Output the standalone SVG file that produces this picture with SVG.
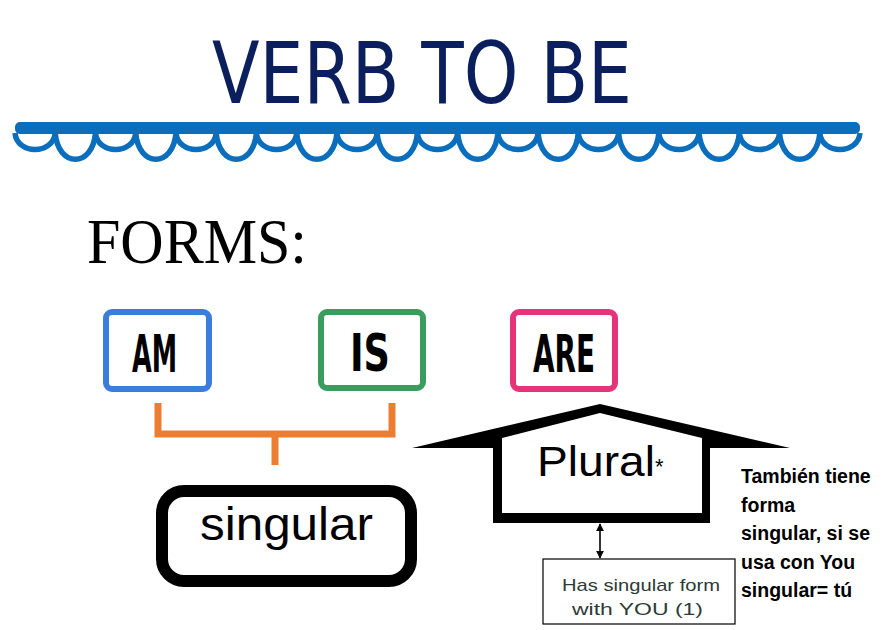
<svg xmlns="http://www.w3.org/2000/svg" width="889" height="630" viewBox="0 0 889 630">
<style>
.hand{font-family:"Liberation Sans","DejaVu Sans",sans-serif;fill:#000}
.marker{font-family:"DejaVu Sans Condensed","DejaVu Sans",sans-serif;font-weight:bold;fill:#000}
.form{fill:#fff;stroke-width:6}
.scal{fill:none;stroke:#0a6ebd;stroke-width:5.5}
.note{font-family:"Liberation Sans","DejaVu Sans",sans-serif;font-weight:bold;font-size:19.5px;fill:#000}
.small{font-family:"Liberation Sans","DejaVu Sans",sans-serif;font-size:17px;fill:#2e3a36}
</style>
<defs>
<marker id="ah" viewBox="0 0 10 10" refX="9" refY="5" markerWidth="8" markerHeight="8" markerUnits="userSpaceOnUse" orient="auto-start-reverse">
<path d="M0,0 L10,5 L0,10 Z" fill="#000"/>
</marker>
</defs>
<rect width="889" height="630" fill="#fff"/>

<g id="title">
<text x="212" y="103" font-family="'DejaVu Sans Condensed','DejaVu Sans',sans-serif" font-size="86" fill="#0b1f5c" textLength="420" lengthAdjust="spacingAndGlyphs">VERB TO BE</text>
</g>

<g id="border">
<rect x="15" y="122" width="845" height="12" rx="5" fill="#0a6ebd"/>
<path class="scal" d="M15,133 C17,155 53,155 55.2,133 M95.5,133 C97.5,155 133.7,155 135.7,133 M176,133 C178,155 214.2,155 216.2,133 M256.4,133 C258.4,155 294.7,155 296.7,133 M336.9,133 C338.9,155 375.1,155 377.1,133 M417.4,133 C419.4,155 455.6,155 457.6,133 M497.9,133 C499.9,155 536.1,155 538.1,133 M578.3,133 C580.3,155 616.6,155 618.6,133 M658.8,133 C660.8,155 697,155 699,133 M739.3,133 C741.3,155 777.5,155 779.5,133 M819.8,133 C821.8,155 858,155 860,133"/>
<path class="scal" d="M55.2,133 C58.2,168 92.5,168 95.5,133 M135.7,133 C138.7,168 173,168 176,133 M216.2,133 C219.2,168 253.4,168 256.4,133 M296.7,133 C299.7,168 333.9,168 336.9,133 M377.1,133 C380.1,168 414.4,168 417.4,133 M457.6,133 C460.6,168 494.9,168 497.9,133 M538.1,133 C541.1,168 575.3,168 578.3,133 M618.6,133 C621.6,168 655.8,168 658.8,133 M699,133 C702,168 736.3,168 739.3,133 M779.5,133 C782.5,168 816.8,168 819.8,133"/>
</g>

<g id="forms-label">
<text x="87" y="263" font-family="'Liberation Serif','DejaVu Serif',serif" font-size="64" fill="#000" textLength="220" lengthAdjust="spacingAndGlyphs">FORMS:</text>
</g>

<g id="am">
<rect class="form" x="106" y="312" width="103" height="77" rx="6" stroke="#3b7ddd"/>
<text class="marker" x="132" y="372" font-size="52" textLength="45" lengthAdjust="spacingAndGlyphs">AM</text>
</g>

<g id="is">
<rect class="form" x="321" y="312" width="102" height="76" rx="6" stroke="#3a9d5d"/>
<text class="marker" x="350" y="371" font-size="52" textLength="40" lengthAdjust="spacingAndGlyphs">IS</text>
</g>

<g id="are">
<rect class="form" x="513" y="312" width="102" height="77" rx="6" stroke="#e6337a"/>
<text class="marker" x="533" y="372" font-size="52" textLength="62" lengthAdjust="spacingAndGlyphs">ARE</text>
</g>

<g id="connectors">
<path d="M158,403 V434 H392 V403 M275,434 V465" fill="none" stroke="#ed7d31" stroke-width="7"/>
<line x1="600" y1="524" x2="600" y2="558" stroke="#000" stroke-width="1.6" marker-start="url(#ah)" marker-end="url(#ah)"/>
</g>

<g id="singular">
<rect x="162" y="491" width="249" height="90" rx="22" fill="#fff" stroke="#000" stroke-width="12"/>
<text class="hand" x="200" y="540" font-size="46" textLength="173" lengthAdjust="spacingAndGlyphs">singular</text>
</g>

<g id="plural">
<path fill-rule="evenodd" fill="#000" d="M412,448 L600,404 L790,448 L710,448 L710,523 L493,523 L493,448 Z M502,438 L600,413 L702,438 L702,513 L502,513 Z"/>
<text class="hand" x="537" y="476" font-size="42"><tspan textLength="118" lengthAdjust="spacingAndGlyphs">Plural</tspan><tspan font-size="22" dy="-2">*</tspan></text>
</g>

<g id="you-note">
<rect x="543" y="559" width="192" height="65" fill="#fff" stroke="#000" stroke-width="1.2"/>
<text class="small" x="562" y="591" textLength="158" lengthAdjust="spacingAndGlyphs">Has singular form</text>
<text class="small" x="572" y="615" textLength="131" lengthAdjust="spacingAndGlyphs">with YOU (1)</text>
</g>

<g id="side-note">
<text class="note" x="741" y="483">También tiene</text>
<text class="note" x="741" y="511.5">forma</text>
<text class="note" x="741" y="540">singular, si se</text>
<text class="note" x="741" y="568.5">usa con You</text>
<text class="note" x="741" y="597">singular= tú</text>
</g>
</svg>
